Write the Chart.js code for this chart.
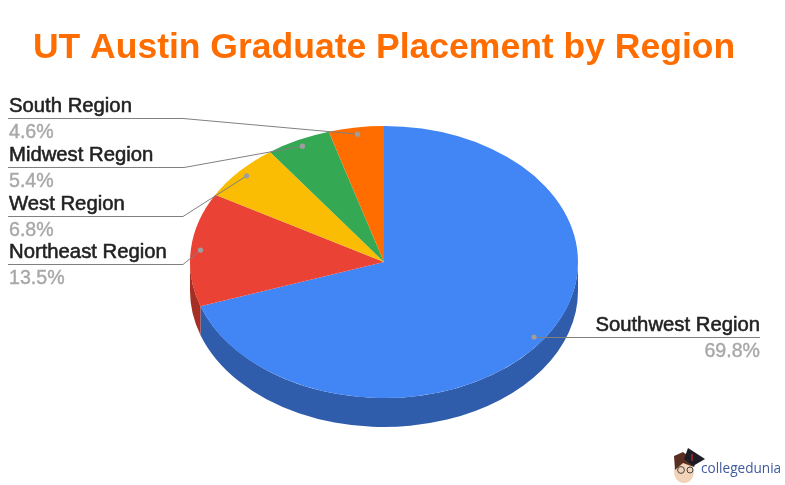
<!DOCTYPE html>
<html><head><meta charset="utf-8">
<style>html,body{margin:0;padding:0;background:#fff}canvas{display:block}</style>
<script src="https://cdn.jsdelivr.net/npm/chart.js@4"></script></head>
<body><canvas id="c" width="785" height="485"></canvas>
<script>
const categories = ['Southwest Region','Northeast Region','West Region','Midwest Region','South Region'];
const values = [69.8,13.5,6.8,5.4,4.6];
const colors = ['#4285f4','#ea4335','#fbbc04','#34a853','#ff6d01'];
const wallColors = ['#2f5dab','#a42f25','#b08403','#247539','#b34c01'];
const titleText = 'UT Austin Graduate Placement by Region';

// label layout: [elbow x, elbow y, line end x, text x, align]
const labelLayout = [
  [534,337,760,760,'right'],
  [183,264,8,9,'left'],
  [183,216,8,9,'left'],
  [184,167,8,9,'left'],
  [183,118,8,9,'left']
];
const view = {cx:384, cy:262, r:194, k:136/194, depth:29, dot:0.95};

const pie3d = {
  id:'pie3d',
  beforeDatasetsDraw(chart){
    const ctx = chart.ctx, arcs = chart.getDatasetMeta(0).data;
    const {cx,cy,r,k,depth} = view;
    ctx.save();
    arcs.forEach((a,i)=>{
      let s = a.startAngle, e = a.endAngle;
      const lo = Math.max(s,0), hi = Math.min(e,Math.PI);
      if (hi<=lo) return;
      ctx.beginPath();
      ctx.ellipse(cx,cy,r,r*k,0,lo,hi);
      ctx.ellipse(cx,cy+depth,r,r*k,0,hi,lo,true);
      ctx.closePath();
      ctx.fillStyle = wallColors[i];
      ctx.fill();
    });
    ctx.restore();
    ctx.save();
    const a0 = arcs[0];
    ctx.translate(cx-a0.x*1, cy-a0.y*k);
    ctx.scale(1,k);
  },
  afterDatasetsDraw(chart){
    const ctx = chart.ctx, arcs = chart.getDatasetMeta(0).data;
    ctx.restore();
    const {cx,cy,r,k,dot} = view;
    arcs.forEach((a,i)=>{
      const m = (a.startAngle+a.endAngle)/2;
      const px = cx+Math.cos(m)*r*dot, py = cy+Math.sin(m)*r*k*dot;
      const [ex,ey,lx,tx,al] = labelLayout[i];
      ctx.strokeStyle='#808080'; ctx.lineWidth=1;
      ctx.beginPath(); ctx.moveTo(px,py);
      ctx.lineTo(ex,ey+0.5); ctx.lineTo(lx,ey+0.5); ctx.stroke();
      ctx.fillStyle='#9e9e9e';
      ctx.beginPath(); ctx.arc(px,py,2.6,0,Math.PI*2); ctx.fill();
      ctx.textAlign=al; ctx.textBaseline='alphabetic';
      ctx.font='20.3px "Liberation Sans", Arial, sans-serif';
      ctx.fillStyle='#222222';
      ctx.fillText(categories[i],tx,ey-6);
      ctx.strokeStyle='#222222'; ctx.lineWidth=0.55;
      ctx.strokeText(categories[i],tx,ey-6);
      ctx.fillStyle='#a8a8a8';
      ctx.font='19.6px "Liberation Sans", Arial, sans-serif';
      ctx.fillText(values[i].toFixed(1)+'%',tx,ey+20);
      ctx.strokeStyle='#a8a8a8'; ctx.lineWidth=0.4;
      ctx.strokeText(values[i].toFixed(1)+'%',tx,ey+20);
    });
    drawLogo(ctx);
  }
};

function drawLogo(ctx){
  ctx.save();
  // head
  ctx.fillStyle='#f3d3b8';
  ctx.beginPath(); ctx.ellipse(684,472,10,11,0,0,Math.PI*2); ctx.fill();
  // hair
  ctx.fillStyle='#5a2f22';
  ctx.beginPath(); ctx.moveTo(675,470); ctx.lineTo(674,456); ctx.lineTo(683,452);
  ctx.lineTo(696,462); ctx.lineTo(694,467); ctx.lineTo(683,463); ctx.closePath(); ctx.fill();
  // cap
  ctx.fillStyle='#1d1d25';
  ctx.beginPath(); ctx.moveTo(688,448); ctx.lineTo(705,459); ctx.lineTo(693,466); ctx.lineTo(684,459); ctx.closePath(); ctx.fill();
  ctx.strokeStyle='#d8262c'; ctx.lineWidth=1.2;
  ctx.beginPath(); ctx.moveTo(692,454); ctx.lineTo(692,461); ctx.stroke();
  // glasses
  ctx.strokeStyle='#444'; ctx.lineWidth=1;
  ctx.beginPath(); ctx.arc(681,470,3.4,0,Math.PI*2); ctx.moveTo(693,470); ctx.arc(690,470,3,0,Math.PI*2); ctx.stroke();
  ctx.fillStyle='#3f5a9c'; ctx.textAlign='left'; ctx.textBaseline='alphabetic';
  ctx.font='13.6px "Open Sans", sans-serif';
  ctx.fillText('collegedunia',701,473);
  ctx.restore();
}

new Chart(document.getElementById('c'),{
  type:'pie',
  data:{labels:categories,datasets:[{data:values,backgroundColor:colors,borderWidth:0,radius:view.r,clip:false}]},
  plugins:[pie3d],
  options:{
    responsive:false,animation:false,
    layout:{padding:{left:0,right:17,top:27,bottom:0}},
    plugins:{
      legend:{display:false},tooltip:{enabled:false},
      title:{display:true,text:titleText,color:'#ff6d01',padding:0,
        font:{family:'"Liberation Sans", Arial, sans-serif',size:35.5,weight:'bold',lineHeight:1.2}}
    }
  }
});
</script></body></html>
